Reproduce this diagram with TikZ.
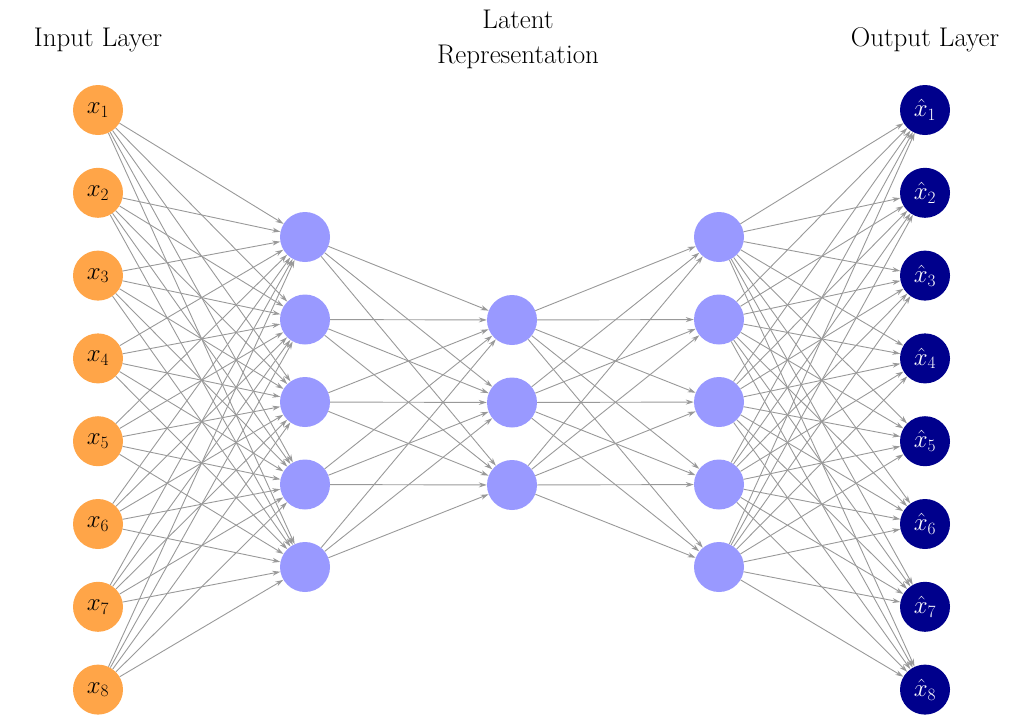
\documentclass[tikz,border=0pt]{standalone}
\usetikzlibrary{arrows.meta}
\definecolor{inp}{RGB}{255,165,72}
\definecolor{hid}{RGB}{153,153,255}
\definecolor{outc}{RGB}{0,0,140}
\begin{document}
\begin{tikzpicture}[x=1pt,y=-1pt,
  neuron/.style={circle,minimum size=50pt,inner sep=0pt},
  inneur/.style={neuron,fill=inp},
  hd/.style={neuron,fill=hid},
  ou/.style={neuron,fill=outc,text=white},
  conn/.style={draw=gray!80,line width=0.9pt,-{Stealth[length=8pt,width=5pt]}},
  lbl/.style={font=\fontsize{27}{35}\selectfont,align=center}]
\useasboundingbox (0,0) rectangle (1024,716);
\fontsize{27}{33}\selectfont
\foreach \i in {1,...,8} {
  \node[inneur] (I\i) at (98,{110+82.8*(\i-1)}) {$x_{\i}$};
  \node[ou] (O\i) at (925,{110+82.8*(\i-1)}) {$\hat{x}_{\i}$};
}
\foreach \i in {1,...,5} {
  \node[hd] (A\i) at (305,{237+82.5*(\i-1)}) {};
  \node[hd] (B\i) at (719,{237+82.5*(\i-1)}) {};
}
\foreach \i in {1,...,3} \node[hd] (L\i) at (512,{320+82.5*(\i-1)}) {};
\foreach \i in {1,...,8} \foreach \j in {1,...,5} \draw[conn] (I\i) -- (A\j);
\foreach \i in {1,...,5} \foreach \j in {1,...,3} \draw[conn] (A\i) -- (L\j);
\foreach \i in {1,...,3} \foreach \j in {1,...,5} \draw[conn] (L\i) -- (B\j);
\foreach \i in {1,...,5} \foreach \j in {1,...,8} \draw[conn] (B\i) -- (O\j);
\node[lbl] (t1) at (98,40) {Input Layer};
\node[lbl] (t2) at (518,39) {Latent\\Representation};
\node[lbl] (t3) at (925,40) {Output Layer};
\end{tikzpicture}
\end{document}
